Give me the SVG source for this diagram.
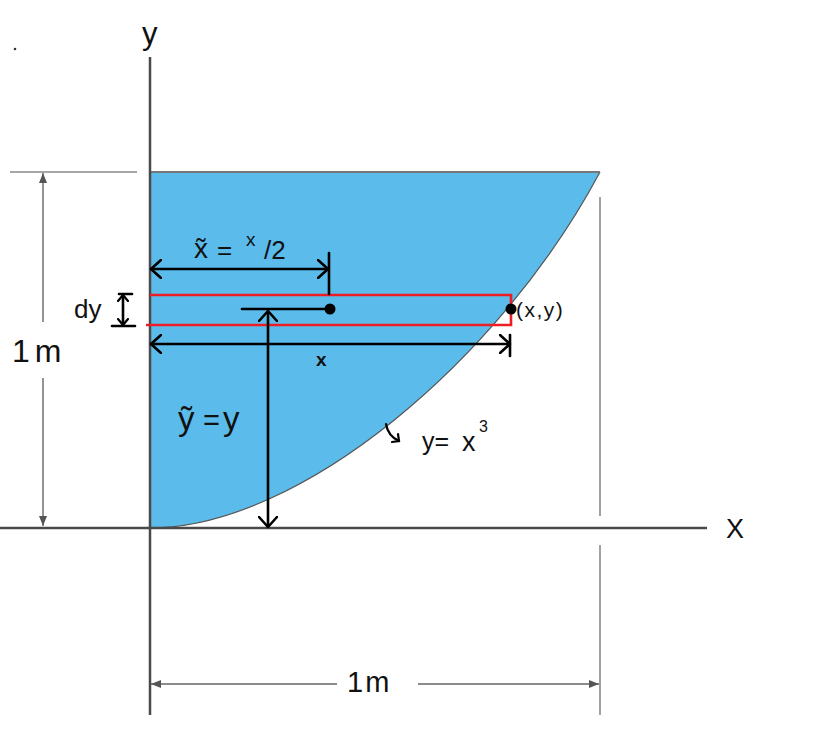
<svg xmlns="http://www.w3.org/2000/svg" width="819" height="756" viewBox="0 0 819 756">
<style>
  text { font-family: "Liberation Sans", "DejaVu Sans", sans-serif; fill: #111; }
  .axis { stroke: #4a4a4a; stroke-width: 2.5; fill: none; }
  .ext { stroke: #8a8a8a; stroke-width: 1.6; fill: none; }
  .dimg { stroke: #666; stroke-width: 1.4; fill: none; }
  .ts { marker-start: url(#tri); }
  .te { marker-end: url(#tri); }
  .blk { stroke: #000; stroke-width: 2.6; fill: none; stroke-linecap: round; }
  .arr2 { marker-start: url(#chev); marker-end: url(#chev); }
  .arrs { marker-start: url(#chevs); marker-end: url(#chevs); }
  .red { stroke: #ee1c24; stroke-width: 2.6; fill: none; }
</style>
<defs>
  <marker id="chev" viewBox="0 0 12 20" refX="11" refY="10" markerWidth="12" markerHeight="20" markerUnits="userSpaceOnUse" orient="auto-start-reverse">
    <path d="M1,1 L11,10 L1,19" fill="none" stroke="#000" stroke-width="2.6" stroke-linecap="round" stroke-linejoin="round"/>
  </marker>
  <marker id="chevs" viewBox="0 0 8 12" refX="7" refY="6" markerWidth="8" markerHeight="12" markerUnits="userSpaceOnUse" orient="auto-start-reverse">
    <path d="M1,1 L7,6 L1,11" fill="none" stroke="#000" stroke-width="2.2" stroke-linecap="round" stroke-linejoin="round"/>
  </marker>
  <marker id="tri" viewBox="0 0 10 8" refX="10" refY="4" markerWidth="10" markerHeight="8" markerUnits="userSpaceOnUse" orient="auto-start-reverse">
    <path d="M0,0 L10,4 L0,8 z" fill="#555"/>
  </marker>
</defs>

<rect width="819" height="756" fill="#fff"/>

<g id="area">
  <path d="M150,528 C300,528 500,360 600,172 L150,172 Z" fill="#5bbbea"/>
  <path d="M150,528 C300,528 500,360 600,172" fill="none" stroke="#555" stroke-width="1.2"/>
  <line x1="150" y1="172" x2="600" y2="172" stroke="#777" stroke-width="2"/>
</g>

<g id="axes">
  <line class="axis" x1="150" y1="57" x2="150" y2="715"/>
  <line class="axis" x1="0" y1="528" x2="707" y2="528"/>
  <text x="142" y="44" font-size="31">y</text>
  <text x="726" y="538" font-size="27">X</text>
  <circle cx="15" cy="49" r="1.3" fill="#333"/>
</g>

<g id="strip">
  <path class="red" d="M146,325 H511 V295 H150"/>
</g>

<g id="connectors">
  <!-- extension lines -->
  <line class="ext" x1="10" y1="172" x2="137" y2="172"/>
  <line class="ext" x1="600" y1="197" x2="600" y2="516"/>
  <line class="ext" x1="600" y1="545" x2="600" y2="715"/>
  <!-- grey dimensions -->
  <line class="dimg ts" x1="43" y1="173" x2="43" y2="322"/>
  <line class="dimg te" x1="43" y1="378" x2="43" y2="526"/>
  <line class="dimg ts" x1="151" y1="684" x2="337" y2="684"/>
  <line class="dimg te" x1="418" y1="684" x2="599" y2="684"/>
  <!-- x/2 dimension -->
  <line class="blk arr2" x1="151" y1="269" x2="328" y2="269"/>
  <line class="blk" x1="329" y1="253" x2="329" y2="294"/>
  <!-- x dimension -->
  <line class="blk arr2" x1="151" y1="344" x2="510" y2="344"/>
  <line class="blk" x1="510" y1="335" x2="510" y2="356"/>
  <!-- centroid -->
  <line class="blk" x1="242" y1="309" x2="329" y2="309"/>
  <line class="blk arr2" x1="268" y1="311" x2="268" y2="527"/>
  <!-- dy -->
  <line class="blk arrs" x1="123" y1="295" x2="123" y2="325"/>
  <line class="blk" x1="119" y1="294" x2="132" y2="294"/>
  <line class="blk" x1="112" y1="326" x2="135" y2="326"/>
  <!-- curve pointer -->
  <path class="blk" d="M386,424 Q388,436 399,441" style="stroke-width:2.2"/>
  <path class="blk" d="M392,442 L399,441 L398,434" style="stroke-width:2.2"/>
</g>

<g id="points">
  <circle cx="330" cy="309" r="5.5" fill="#000"/>
  <circle cx="511" cy="309" r="5.5" fill="#000"/>
</g>

<g id="labels">
  <text x="12" y="362" font-size="32" letter-spacing="5">1m</text>
  <text x="347" y="692" font-size="29" letter-spacing="2">1m</text>
  <text x="74" y="318" font-size="26">dy</text>
  <text x="194" y="258" font-size="28">x̃</text>
  <text x="217" y="259" font-size="26">=</text>
  <text x="246" y="246" font-size="19">x</text>
  <text x="264" y="259" font-size="26">/2</text>
  <text x="316" y="366" font-size="19" font-weight="bold">x</text>
  <text x="516" y="317" font-size="21" letter-spacing="1.5">(x,y)</text>
  <text x="178" y="430" font-size="33">ỹ</text>
  <text x="203" y="430" font-size="29">=</text>
  <text x="223" y="430" font-size="33">y</text>
  <text x="422" y="450" font-size="25">y=</text>
  <text x="462" y="451" font-size="27">x</text>
  <text x="479" y="432" font-size="16">3</text>
</g>
</svg>
